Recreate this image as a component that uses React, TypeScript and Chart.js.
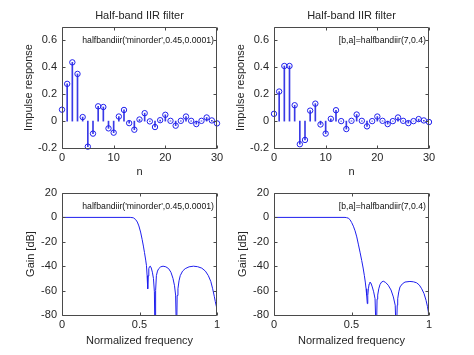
import React, { useEffect, useRef } from 'react';
import { Chart, registerables } from 'chart.js';

Chart.register(...registerables);

const FONT = "'Liberation Sans', Arial, Helvetica, sans-serif";
const TEXT = '#262626';
const AXIS = '#4a4a4a';
const BLUE = '#1f1fee';
const STEM_BLUE = '#3a3ae6';

const PLOT_TITLE = 'Half-band IIR filter';
const LABEL_MINORDER = "halfbandiir('minorder',0.45,0.0001)";
const LABEL_ORDER7 = '[b,a]=halfbandiir(7,0.4)';

const N = [0, 1, 2, 3, 4, 5, 6, 7, 8, 9, 10, 11, 12, 13, 14, 15, 16, 17, 18, 19, 20, 21, 22, 23, 24, 25, 26, 27, 28, 29, 30];
const IMP_MINORDER = [0.085, 0.277, 0.437, 0.351, 0.03, -0.19, -0.093, 0.11, 0.105, -0.054, -0.086, 0.034, 0.083, -0.015, -0.064, 0.012, 0.059, -0.002, -0.044, 0.007, 0.047, 0.002, -0.034, 0.002, 0.034, 0.002, -0.022, 0.002, 0.027, 0.005, -0.017];
const IMP_ORDER7 = [0.054, 0.22, 0.41, 0.41, 0.118, -0.172, -0.14, 0.078, 0.13, -0.025, -0.093, 0.017, 0.081, 0.0, -0.059, 0.002, 0.049, 0.002, -0.039, 0.0, 0.034, 0.002, -0.022, 0.0, 0.027, 0.002, -0.015, 0.0, 0.015, 0.005, -0.007];

const FREQ_MINORDER = [0, 0.2, 0.4, 0.44, 0.46, 0.474, 0.486, 0.496, 0.507, 0.517, 0.525, 0.532, 0.54, 0.545, 0.549, 0.553, 0.556, 0.56, 0.565, 0.57, 0.576, 0.583, 0.59, 0.596, 0.6, 0.604, 0.609, 0.616, 0.624, 0.637, 0.652, 0.67, 0.688, 0.703, 0.716, 0.726, 0.733, 0.739, 0.743, 0.748, 0.755, 0.763, 0.778, 0.795, 0.82, 0.848, 0.875, 0.902, 0.925, 0.944, 0.96, 0.972, 0.983, 0.989, 0.996, 1.0];
const GAIN_MINORDER = [0, 0, 0, 0, -0.3, -1.6, -3.8, -7, -12, -18, -23.5, -28.7, -35, -39.6, -47.7, -58.5, -48, -42, -40.3, -40, -41.5, -44.9, -50, -61, -100, -60, -47.7, -44, -42, -40.5, -40, -40.5, -42, -45, -50, -56, -63.7, -100, -64, -58.5, -52, -47.7, -44, -42, -40.5, -40, -40.4, -41.6, -44, -47.7, -52.5, -58.5, -65, -69, -73, -74];

const FREQ_ORDER7 = [0, 0.2, 0.4, 0.458, 0.468, 0.479, 0.49, 0.501, 0.512, 0.523, 0.534, 0.544, 0.555, 0.566, 0.575, 0.583, 0.589, 0.594, 0.598, 0.602, 0.605, 0.609, 0.614, 0.619, 0.626, 0.634, 0.643, 0.652, 0.66, 0.665, 0.669, 0.676, 0.684, 0.694, 0.705, 0.72, 0.737, 0.755, 0.77, 0.782, 0.789, 0.795, 0.798, 0.805, 0.813, 0.828, 0.845, 0.877, 0.9, 0.92, 0.938, 0.953, 0.968, 0.981, 0.99, 0.996, 1.0];
const GAIN_ORDER7 = [0, 0, 0, 0, -0.2, -0.6, -1.8, -4.2, -7.2, -11, -16, -21.9, -28.5, -35.4, -41.5, -47.7, -53, -58.5, -64, -70.7, -64, -58.5, -54.5, -53, -54, -57, -61, -66.7, -100, -67, -63.7, -58.5, -55, -53, -52.3, -53.3, -55.6, -59.5, -65.2, -72, -100, -72, -66.7, -61, -57, -54.5, -53, -52.5, -52.8, -53.6, -55.5, -58.5, -62.5, -68, -73, -77.5, -100];

const N_TICKS = [0, 10, 20, 30];
const IMP_TICKS = [-0.2, 0, 0.2, 0.4, 0.6];
const FREQ_TICKS = [0, 0.5, 1];
const GAIN_TICKS = [-80, -60, -40, -20, 0, 20];

const framePlugin = {
  id: 'frame',
  afterDraw(chart: any, _args: any, opts: any) {
    const { ctx, chartArea } = chart;
    const { left, right, top, bottom } = chartArea;
    const xs = chart.scales.x;
    const ys = chart.scales.y;
    ctx.save();
    ctx.strokeStyle = AXIS;
    ctx.lineWidth = 1;
    ctx.beginPath();
    const L = Math.round(left) + 0.5;
    const R = Math.round(right) - 0.5;
    const T = Math.round(top) + 0.5;
    const B = Math.round(bottom) + 0.5;
    ctx.moveTo(L, T);
    ctx.lineTo(R, T);
    ctx.lineTo(R, B);
    ctx.lineTo(L, B);
    ctx.closePath();
    const tl = 3;
    (opts.xTicks || []).forEach((v: number) => {
      const px = Math.round(xs.getPixelForValue(v)) + 0.5;
      ctx.moveTo(px, B);
      ctx.lineTo(px, B - tl);
      ctx.moveTo(px, T);
      ctx.lineTo(px, T + tl);
    });
    (opts.yTicks || []).forEach((v: number) => {
      const py = Math.round(ys.getPixelForValue(v)) + 0.5;
      ctx.moveTo(L, py);
      ctx.lineTo(L + tl, py);
      ctx.moveTo(R, py);
      ctx.lineTo(R - tl, py);
    });
    ctx.stroke();
    if (opts.label) {
      ctx.fillStyle = '#111';
      ctx.font = `8.7px ${FONT}`;
      ctx.textAlign = 'right';
      ctx.textBaseline = 'middle';
      ctx.fillText(opts.label, right - 3, top + 13.5);
    }
    ctx.restore();
  },
};

type Spec = {
  left: number;
  top: number;
  width: number;
  height: number;
  kind: 'stem' | 'line';
  xs: number[];
  ys: number[];
  label: string;
  title?: string;
  xMin: number;
  xMax: number;
  yMin: number;
  yMax: number;
  xTicks: number[];
  yTicks: number[];
  xTitle: string;
  yTitle: string;
  padTop: number;
  xAxisH: number;
  xTitlePad: number;
  yTitlePad: number;
};

function buildConfig(s: Spec): any {
  const points = s.xs.map((x, i) => ({ x, y: s.ys[i] }));
  const datasets: any[] =
    s.kind === 'stem'
      ? [
          {
            type: 'bar',
            data: points,
            backgroundColor: STEM_BLUE,
            barThickness: 1,
            borderWidth: 0,
            order: 2,
          },
          {
            type: 'line',
            data: points,
            showLine: false,
            pointRadius: 2.7,
            pointBorderWidth: 1,
            pointBorderColor: BLUE,
            pointBackgroundColor: 'rgba(0,0,0,0)',
            borderColor: BLUE,
            clip: false,
            order: 1,
          },
        ]
      : [
          {
            type: 'line',
            data: points,
            borderColor: BLUE,
            borderWidth: 1,
            pointRadius: 0,
            tension: 0,
            fill: false,
          },
        ];
  const tickFont = { family: FONT, size: 11 };
  return {
    type: s.kind === 'stem' ? 'bar' : 'line',
    data: { datasets },
    options: {
      animation: false,
      responsive: false,
      devicePixelRatio: 1,
      events: [],
      layout: { padding: { left: 0, right: 20, top: s.padTop, bottom: 0 } },
      plugins: {
        legend: { display: false },
        tooltip: { enabled: false },
        title: s.title
          ? {
              display: true,
              text: s.title,
              fullSize: false,
              color: TEXT,
              font: { family: FONT, size: 11, weight: 'normal' },
              padding: { top: 9.4, bottom: 4.4 },
            }
          : { display: false },
        frame: { label: s.label, xTicks: s.xTicks, yTicks: s.yTicks },
      },
      scales: {
        x: {
          type: 'linear',
          min: s.xMin,
          max: s.xMax,
          offset: false,
          grid: { display: false, drawTicks: false },
          border: { display: false },
          afterBuildTicks: (sc: any) => {
            sc.ticks = s.xTicks.map((v) => ({ value: v }));
          },
          afterFit: (sc: any) => {
            sc.height = s.xAxisH;
          },
          ticks: {
            autoSkip: false,
            maxRotation: 0,
            padding: 3.4,
            color: TEXT,
            font: tickFont,
            callback: (v: any) => String(v),
          },
          title: {
            display: true,
            text: s.xTitle,
            color: TEXT,
            font: tickFont,
            padding: { top: 0, bottom: s.xTitlePad },
          },
        },
        y: {
          type: 'linear',
          min: s.yMin,
          max: s.yMax,
          grid: { display: false, drawTicks: false },
          border: { display: false },
          afterBuildTicks: (sc: any) => {
            sc.ticks = s.yTicks.map((v) => ({ value: v }));
          },
          afterFit: (sc: any) => {
            sc.width = 62;
          },
          ticks: {
            autoSkip: false,
            padding: 5,
            color: TEXT,
            font: tickFont,
            callback: (v: any) => String(v),
          },
          title: {
            display: true,
            text: s.yTitle,
            color: TEXT,
            font: tickFont,
            padding: { top: s.yTitlePad, bottom: 0 },
          },
        },
      },
    },
    plugins: [framePlugin],
  };
}

function Panel({ spec }: { spec: Spec }) {
  const ref = useRef<HTMLCanvasElement>(null);
  useEffect(() => {
    const chart = new Chart(ref.current as HTMLCanvasElement, buildConfig(spec));
    return () => chart.destroy();
  }, []);
  return (
    <canvas
      ref={ref}
      width={spec.width}
      height={spec.height}
      style={{ position: 'absolute', left: spec.left, top: spec.top, width: spec.width, height: spec.height }}
    />
  );
}

const topCommon = {
  top: 0,
  width: 237,
  height: 179,
  kind: 'stem' as const,
  title: PLOT_TITLE,
  xMin: 0,
  xMax: 30,
  yMin: -0.2,
  yMax: 0.7,
  xTicks: N_TICKS,
  yTicks: IMP_TICKS,
  xTitle: 'n',
  yTitle: 'Impulse response',
  padTop: 0,
  xAxisH: 31,
  xTitlePad: 0,
  yTitlePad: 22.5,
};

const bottomCommon = {
  top: 178,
  width: 237,
  height: 177,
  kind: 'line' as const,
  xMin: 0,
  xMax: 1,
  yMin: -80,
  yMax: 20,
  xTicks: FREQ_TICKS,
  yTicks: GAIN_TICKS,
  xTitle: 'Normalized frequency',
  yTitle: 'Gain [dB]',
  padTop: 15,
  xAxisH: 40,
  xTitlePad: 7.4,
  yTitlePad: 24,
};

const SPECS: Spec[] = [
  { ...topCommon, left: 0, xs: N, ys: IMP_MINORDER, label: LABEL_MINORDER },
  { ...topCommon, left: 212, xs: N, ys: IMP_ORDER7, label: LABEL_ORDER7 },
  { ...bottomCommon, left: 0, xs: FREQ_MINORDER, ys: GAIN_MINORDER, label: LABEL_MINORDER },
  { ...bottomCommon, left: 212, xs: FREQ_ORDER7, ys: GAIN_ORDER7, label: LABEL_ORDER7 },
];

export default function App() {
  return (
    <div style={{ position: 'absolute', left: 0, top: 0, width: 474, height: 355, background: '#fff' }}>
      {SPECS.map((s, i) => (
        <Panel key={i} spec={s} />
      ))}
    </div>
  );
}
